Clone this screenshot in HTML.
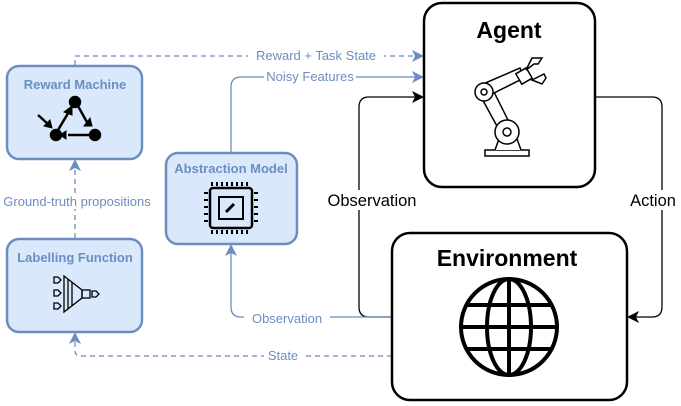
<!DOCTYPE html>
<html><head><meta charset="utf-8"><style>
html,body{margin:0;padding:0;background:#fff;}
svg{display:block;font-family:"Liberation Sans",Arial,sans-serif;}
</style></head><body>
<svg width="681" height="406" viewBox="0 0 681 406" xmlns="http://www.w3.org/2000/svg">
<defs>
<marker id="ab" markerWidth="12" markerHeight="12" refX="10" refY="6" orient="auto" markerUnits="userSpaceOnUse"><path d="M0,0 L12,6 L0,12 L3,6 Z" fill="#6c8ebf"/></marker>
<marker id="ak" markerWidth="12" markerHeight="12" refX="10" refY="6" orient="auto" markerUnits="userSpaceOnUse"><path d="M0,0 L12,6 L0,12 L3,6 Z" fill="#000"/></marker>
</defs>
<g fill="none" stroke-width="1.3">
<path d="M75,65 V56 H422" stroke="#6c8ebf" stroke-dasharray="5,4" marker-end="url(#ab)"/>
<path d="M231,152 V87 Q231,77 241,77 H422" stroke="#6c8ebf" marker-end="url(#ab)"/>
<path d="M392,317 H369 Q359,317 359,307 V107 Q359,97 369,97 H422" stroke="#000" marker-end="url(#ak)"/>
<path d="M595,97 H652 Q662,97 662,107 V307 Q662,317 652,317 H629" stroke="#000" marker-end="url(#ak)"/>
<path d="M392,317 H241 Q231,317 231,307 V246" stroke="#6c8ebf" marker-end="url(#ab)"/>
<path d="M392,356 H80 Q75,356 75,350 V334" stroke="#6c8ebf" stroke-dasharray="5,4" marker-end="url(#ab)"/>
<path d="M75,238 V161" stroke="#6c8ebf" stroke-dasharray="5,4" marker-end="url(#ab)"/>
</g>
<g font-size="13" fill="#6c8ebf" text-anchor="middle">
<rect x="248" y="48" width="136" height="15" fill="#fff"/><text x="316" y="60">Reward + Task State</text>
<rect x="264" y="70" width="92" height="15" fill="#fff"/><text x="310" y="81">Noisy Features</text>
<rect x="244" y="310" width="86" height="15" fill="#fff"/><text x="287" y="323">Observation</text>
<rect x="264" y="348" width="38" height="15" fill="#fff"/><text x="283" y="360">State</text>
<rect x="0" y="194" width="155" height="15" fill="#fff"/><text x="77" y="206">Ground-truth propositions</text>
</g>
<g font-size="16.5" fill="#000" text-anchor="middle">
<rect x="321" y="190" width="102" height="20" fill="#fff"/><text x="372" y="206">Observation</text>
<rect x="626" y="190" width="54" height="20" fill="#fff"/><text x="653" y="206">Action</text>
</g>
<g fill="#dae8fc" stroke="#6c8ebf" stroke-width="2.5">
<rect x="7" y="66" width="135" height="93" rx="12"/>
<rect x="7" y="239" width="135" height="93" rx="12"/>
<rect x="166" y="153" width="131" height="91" rx="12"/>
</g>
<g font-size="13" font-weight="bold" fill="#6c8ebf" text-anchor="middle">
<text x="75" y="89">Reward Machine</text>
<text x="75" y="262">Labelling Function</text>
<text x="231" y="173">Abstraction Model</text>
</g>
<g stroke="#000" stroke-width="2.5" fill="#000">
<circle cx="75" cy="102" r="5"/><circle cx="56" cy="135" r="5"/><circle cx="95" cy="135" r="5"/>
<line x1="58" y1="130" x2="70" y2="110"/><line x1="78" y1="106" x2="88" y2="124"/><line x1="90" y1="135" x2="68" y2="135"/>
<line x1="38" y1="115" x2="48" y2="124"/>
<path d="M64,112 l8,-6 0,9z M84,126 l8,0 -2,-8z M66,131 l-6,4 6,4z M52,128 l-2,-8 -6,6z" stroke-width="1"/>
</g>
<g stroke="#000" stroke-width="1.3" fill="none">
<path d="M64,276 L82,290 V298 L64,312 Z"/><line x1="68" y1="279" x2="68" y2="309"/><line x1="72" y1="282" x2="72" y2="306"/>
<rect x="82" y="290" width="8" height="8"/><path d="M92,291 h4 l3,3 -3,3 h-4z"/>
<path d="M54,277 h4 l3,3 -3,3 h-4z"/><path d="M54,290 h4 l3,3 -3,3 h-4z"/><path d="M54,303 h4 l3,3 -3,3 h-4z"/>
</g>
<g stroke="#000" fill="none">
<rect x="210" y="188" width="42" height="40" rx="3" stroke-width="2.5"/>
<rect x="219" y="197" width="24" height="22" stroke-width="2"/>
<path d="M212,186 v-4 M217,186 v-4 M222,186 v-4 M227,186 v-4 M232,186 v-4 M237,186 v-4 M242,186 v-4 M247,186 v-4 M212,230 v4 M217,230 v4 M222,230 v4 M227,230 v4 M232,230 v4 M237,230 v4 M242,230 v4 M247,230 v4 M208,193 h-4 M208,200 h-4 M208,207 h-4 M208,214 h-4 M208,221 h-4 M254,193 h4 M254,200 h4 M254,207 h4 M254,214 h4 M254,221 h4" stroke-width="2"/>
<path d="M226,212 l8,-8" stroke-width="3"/>
</g>
<g fill="#fff" stroke="#000" stroke-width="2.5">
<rect x="424" y="3" width="171" height="184" rx="18"/>
<rect x="392" y="233" width="235" height="167" rx="18"/>
</g>
<g font-weight="bold" fill="#000" text-anchor="middle">
<text x="509" y="38" font-size="23">Agent</text>
<text x="507" y="266" font-size="23">Environment</text>
</g>
<g stroke="#000" stroke-width="1.5" fill="#fff">
<rect x="485" y="150" width="44" height="6"/>
<path d="M495,150 l5,-14 h16 l5,14"/>
<path d="M480,95 L498,128 L510,124 L492,88 Z"/>
<path d="M483,84 L520,68 L524,78 L488,96 Z"/>
<circle cx="507" cy="132" r="12"/><circle cx="507" cy="132" r="4"/>
<circle cx="484" cy="92" r="9"/><circle cx="484" cy="92" r="3"/>
<rect x="518" y="70" width="12" height="12" transform="rotate(-30 524 76)"/>
<path d="M526,70 l6,-12 h10 l-4,6 h-4 z M532,80 l10,4 4,-6 -2,-4 z"/>
</g>
<g stroke="#000" stroke-width="4" fill="none">
<circle cx="509" cy="327" r="48"/>
<ellipse cx="509" cy="327" rx="22" ry="48"/>
<line x1="509" y1="279" x2="509" y2="375"/>
<line x1="461" y1="327" x2="557" y2="327"/>
<line x1="467" y1="305" x2="551" y2="305"/>
<line x1="467" y1="349" x2="551" y2="349"/>
</g>
</svg>
</body></html>
